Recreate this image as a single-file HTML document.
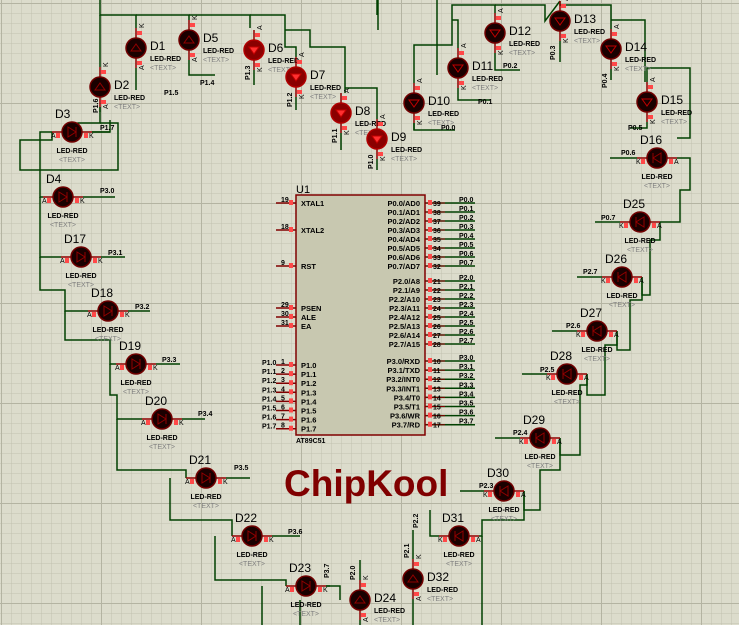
<!DOCTYPE html>
<html><head><meta charset="utf-8"><style>
html,body{margin:0;padding:0;background:#dcdccc;}
svg{display:block;font-family:"Liberation Sans",sans-serif;}
</style></head><body>
<svg id="s" width="739" height="625" xmlns="http://www.w3.org/2000/svg">
<defs>
<pattern id="g" width="10" height="10" patternUnits="userSpaceOnUse" x="2" y="4">
<path d="M10 0V10M0 10H10" stroke="#c2c2b0" stroke-width="1" fill="none"/>
</pattern>
<pattern id="G" width="100" height="100" patternUnits="userSpaceOnUse" x="2" y="4">
<path d="M100 0V100M0 100H100" stroke="#b4b4a2" stroke-width="2" fill="none"/>
</pattern>
</defs>
<rect width="739" height="625" fill="#dcdccc"/>
<rect width="739" height="625" fill="url(#g)"/>
<rect width="739" height="625" fill="url(#G)"/>
<g id="w" stroke="#004000" stroke-width="1.5" fill="none"></g>
<g id="c"></g>
</svg>
<script>
var NS="http://www.w3.org/2000/svg";
var W=document.getElementById('w'),C=document.getElementById('c');
function el(p,t,a,txt){var e=document.createElementNS(NS,t);for(var k in a)e.setAttribute(k,a[k]);if(txt!=null)e.textContent=txt;p.appendChild(e);return e;}
function line(pts){el(W,'polyline',{points:pts});}
function tx(x,y,s,size,col,anchor,rot,bold){var a={x:x,y:y,'font-size':size,fill:col||'#000'};if(anchor)a['text-anchor']=anchor;if(rot)a.transform='rotate('+rot+' '+x+' '+y+')';if(bold)a['font-weight']='bold';el(C,'text',a,s);}
function led(n,x,y,o,lit){
 var fill=lit?'#8a0000':'#1a0000',st=lit?'#b00000':'#700000';
 if(o=='H'||o=='R'){
  el(C,'line',{x1:x-20,y1:y,x2:x+20,y2:y,stroke:'#900000','stroke-width':1.5});
  el(C,'circle',{cx:x,cy:y,r:10,fill:fill,stroke:st,'stroke-width':1.5});
  el(C,'rect',{x:x-16,y:y+1,width:4,height:5,fill:'#ff4848'});
  el(C,'rect',{x:x+12,y:y+1,width:4,height:5,fill:'#ff4848'});
  if(o=='H'){el(C,'path',{d:'M'+(x-4)+' '+(y-5)+'L'+(x+4)+' '+y+'L'+(x-4)+' '+(y+5)+'ZM'+(x+4)+' '+(y-5)+'V'+(y+5),stroke:'#900000',fill:'none'});
   tx(x-21,y+6,'A',7);tx(x+17,y+6,'K',7);}
  else{el(C,'path',{d:'M'+(x+4)+' '+(y-5)+'L'+(x-4)+' '+y+'L'+(x+4)+' '+(y+5)+'ZM'+(x-4)+' '+(y-5)+'V'+(y+5),stroke:'#900000',fill:'none'});
   tx(x-21,y+6,'K',7);tx(x+17,y+6,'A',7);}
  tx(x-17,y-14,n,12);
  tx(x,y+21,'LED-RED',7,'#000','middle',0,true);
  tx(x,y+30,'<TEXT>',7,'#808080','middle');
 } else {
  el(C,'line',{x1:x,y1:y-20,x2:x,y2:y+20,stroke:'#900000','stroke-width':1.5});
  el(C,'circle',{cx:x,cy:y,r:10,fill:fill,stroke:st,'stroke-width':1.5});
  el(C,'rect',{x:x+1,y:y-17,width:5,height:4,fill:'#ff4848'});
  el(C,'rect',{x:x+1,y:y+13,width:5,height:4,fill:'#ff4848'});
  if(o=='VA'){el(C,'path',{d:'M'+(x-5)+' '+(y-3)+'L'+(x+5)+' '+(y-3)+'L'+x+' '+(y+4)+'Z',fill:lit?'#ff3030':'none',stroke:'#c00000'});
   tx(x+8,y-20,'A',7,'#000',null,-90);tx(x+8,y+22,'K',7,'#000',null,-90);}
  else{el(C,'path',{d:'M'+(x-5)+' '+(y+3)+'L'+(x+5)+' '+(y+3)+'L'+x+' '+(y-4)+'Z',fill:'none',stroke:'#900000'});
   tx(x+8,y-20,'K',7,'#000',null,-90);tx(x+8,y+22,'A',7,'#000',null,-90);}
  tx(x+14,y+2,n,12);
  tx(x+14,y+13,'LED-RED',7,'#000',null,0,true);
  tx(x+14,y+22,'<TEXT>',7,'#808080');
 }
}
var wires=[
"100,0 100,15 136,15 136,28","136,15 189,15 189,20","189,15 250,15 250,28","100,15 100,67","100,107 100,123 78,123 78,132","100,123 118,123 118,170 20,170 20,140 52,140 52,132",
"250,15 285,15 285,47 296,47 296,57","285,30 310,30 310,47 345,47 345,93","345,88 377,88 377,119","377,0 377,15",
"92,132 110,132 110,120","92,132 110,132",
"414,83 414,45 452,45 452,5 495,5 495,13","452,20 458,20 458,48","495,5 545,5 545,21 560,1","560,1 560,5 611,5 611,29","611,20 645,20 645,82","647,82 647,68 690,68 690,138 677,138",
"437,0 437,75","378,0 378,30","414,123 414,130 455,130","458,88 458,100 490,100","495,53 495,70 520,70","560,41 560,62","611,69 611,80","647,122 647,128 630,128",
"637,158 610,158","620,222 595,222","602,277 577,277","577,331 552,331","547,374 522,374","520,438 495,438","484,491 460,491","439,536 430,536 430,510","413,559 413,530",
"677,158 690,158 690,190 680,190 680,222 660,222","660,222 660,240 650,240 650,295 642,295 642,277","642,277 642,300 630,300 630,350 617,350 617,331","617,331 617,345 605,345 605,395 587,395 587,374","587,374 587,385 580,385 580,455 560,455 560,438","560,438 560,470 540,470 540,510 524,510 524,491","524,491 524,520 482,520 482,536 479,536","482,536 482,625","413,599 413,625","360,620 360,625",
"52,132 40,132 40,197 43,197","40,197 40,257 61,257","40,257 40,290 65,290 65,311 88,311","65,311 65,340 110,340 110,364 116,364","110,364 110,395 117,395 117,419 142,419","117,419 117,470 186,470 186,478","170,478 170,520 232,520 232,536","215,536 215,580 286,580 286,586","262,586 262,625","326,586 340,586 340,600",
"83,197 115,197","101,257 125,257","128,311 150,311","156,364 180,364","182,419 205,419","226,478 250,478","272,536 300,536","326,586 330,586","300,600 300,625",
"100,107 100,112","136,68 136,90","189,60 189,75 215,75","254,70 254,85","296,97 296,110","341,133 341,150","377,159 377,170","414,123 414,130","360,580 360,560"
];
wires.forEach(line);
var leds=[["D1",136,48,"VK"],["D5",189,40,"VK"],["D2",100,87,"VK"],["D6",254,50,"VA",1],["D7",296,77,"VA",1],["D8",341,113,"VA",1],["D9",377,139,"VA",1],
["D10",414,103,"VA"],["D11",458,68,"VA"],["D12",495,33,"VA"],["D13",560,21,"VA"],["D14",611,49,"VA"],["D15",647,102,"VA"],
["D16",657,158,"R"],["D25",640,222,"R"],["D26",622,277,"R"],["D27",597,331,"R"],["D28",567,374,"R"],["D29",540,438,"R"],["D30",504,491,"R"],["D31",459,536,"R"],
["D32",413,579,"VK"],["D24",360,600,"VK"],["D23",306,586,"H"],["D22",252,536,"H"],["D21",206,478,"H"],["D20",162,419,"H"],["D19",136,364,"H"],["D18",108,311,"H"],["D17",81,257,"H"],["D4",63,197,"H"],["D3",72,132,"H"]];
leds.forEach(function(l){led(l[0],l[1],l[2],l[3],l[4]);});
var nl=[["P1.5",164,95],["P1.4",200,85],["P1.7",100,130],["P3.0",100,193],["P3.1",108,255],["P3.2",135,309],["P3.3",162,362],["P3.4",198,416],["P3.5",234,470],["P3.6",288,534],
["P0.2",503,68],["P0.1",478,104],["P0.0",441,130],["P0.5",628,130],["P0.6",621,155],["P0.7",601,220],["P2.7",583,274],["P2.6",566,328],["P2.5",540,372],["P2.4",513,435],["P2.3",479,488]];
nl.forEach(function(n){tx(n[1],n[2],n[0],7,'#000',null,0,true);});
var vl=[["P1.6",101,113],["P1.3",253,80],["P1.2",295,107],["P1.1",340,143],["P1.0",376,169],["P0.3",558,60],["P0.4",610,88],["P2.2",421,528],["P2.1",412,558],["P2.0",358,580],["P3.7",332,578]];
vl.forEach(function(n){tx(n[1]-3,n[2],n[0],7,'#000',null,-90,true);});
el(C,'rect',{x:296,y:195,width:129,height:240,fill:'#c8c8b0',stroke:'#800000','stroke-width':1.5});
tx(296,193,'U1',11);
var L=[["XTAL1",203,"19"],["XTAL2",230,"18"],["RST",266,"9"],["PSEN",308,"29"],["ALE",317,"30"],["EA",326,"31"]];
for(var i=0;i<8;i++)L.push(["P1."+i,365+i*9.1,""+(i+1)]);
L.forEach(function(p){el(W,'line',{x1:276,y1:p[1],x2:296,y2:p[1],stroke:'#800000'});tx(301,p[1]+3,p[0],7.5,'#000',null,0,true);tx(281,p[1]-1,p[2],7,'#000',null,0,true);el(C,'rect',{x:289,y:p[1]-3,width:4,height:5,fill:'#ff4848'});});
for(var i=0;i<8;i++){tx(262,365+i*9.1,"P1."+i,7,'#000',null,0,true);}
var R=[];
var p0=["P0.0/AD0","P0.1/AD1","P0.2/AD2","P0.3/AD3","P0.4/AD4","P0.5/AD5","P0.6/AD6","P0.7/AD7"],
p2=["P2.0/A8","P2.1/A9","P2.2/A10","P2.3/A11","P2.4/A12","P2.5/A13","P2.6/A14","P2.7/A15"],
p3=["P3.0/RXD","P3.1/TXD","P3.2/INT0","P3.3/INT1","P3.4/T0","P3.5/T1","P3.6/WR","P3.7/RD"];
for(var i=0;i<8;i++){R.push([p0[i],203+i*9,""+(39-i),"P0."+i]);}
for(var i=0;i<8;i++){R.push([p2[i],281+i*9,""+(21+i),"P2."+i]);}
for(var i=0;i<8;i++){R.push([p3[i],361+i*9.1,""+(10+i),"P3."+i]);}
R.forEach(function(p){el(W,'line',{x1:425,y1:p[1],x2:475,y2:p[1]});el(C,'line',{x1:425,y1:p[1],x2:445,y2:p[1],stroke:'#800000'});tx(420,p[1]+3,p[0],7.5,'#000','end',0,true);el(C,'rect',{x:428,y:p[1]-3,width:4,height:5,fill:'#ff4848'});tx(433,p[1]+3,p[2],7,'#000',null,0,true);tx(459,p[1]-1,p[3],7,'#000',null,0,true);});
tx(296,443,'AT89C51',7,'#000',null,0,true);
tx(284,496,'ChipKool',37,'#800000',null,0,true);
</script>
</body></html>
